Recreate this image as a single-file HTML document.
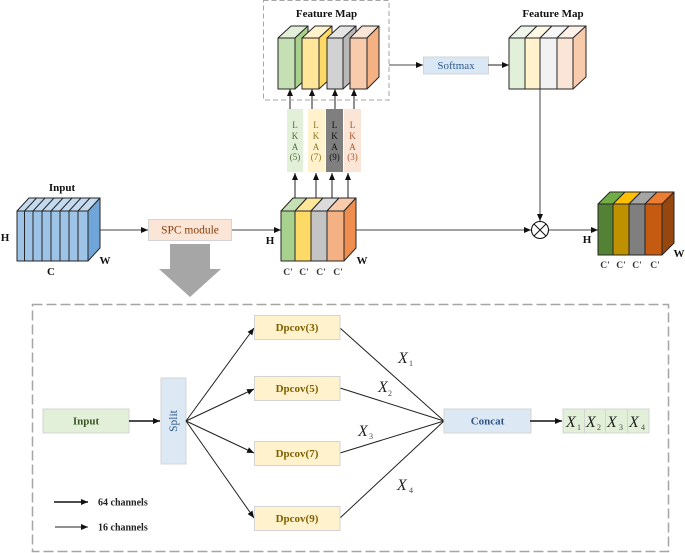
<!DOCTYPE html>
<html><head><meta charset="utf-8"><style>
html,body{margin:0;padding:0;background:#fff;width:685px;height:553px;overflow:hidden}
svg{display:block}
text{font-family:"Liberation Serif",serif}
.b{font-weight:bold;font-size:11px;fill:#111;text-anchor:middle}
.c{font-weight:bold;font-size:9.5px;fill:#333;text-anchor:middle}
.e{stroke:#262626;stroke-width:1;stroke-linejoin:round}
.box{stroke:#d4d4d4;stroke-width:1}
.x{font-style:italic;font-size:16px;fill:#222}
.s{font-size:8px;fill:#444}
.l{font-size:9px;text-anchor:middle}
.d{font-weight:bold;font-size:11px;fill:#7f6000;text-anchor:middle}
.ln{stroke:#222;stroke-width:1;fill:none}
.g{stroke:#444;stroke-width:1;fill:none}
.th{stroke:#111;stroke-width:1.5;fill:none}
</style></head><body>
<svg width="685" height="553" viewBox="0 0 685 553" xmlns="http://www.w3.org/2000/svg">
<defs>
<marker id="a" markerUnits="userSpaceOnUse" markerWidth="8" markerHeight="8" refX="7" refY="3" orient="auto"><path d="M0,0L7,3L0,6z" fill="#111"/></marker>
</defs>

<!-- Input cube -->
<polygon class="e" points="17,211 88,211 100,198 29,198" fill="#c3daf0"/>
<polygon class="e" points="88,211 100,198 100,248 88,261" fill="#6fa5d8"/>
<rect class="e" x="17" y="211" width="71" height="50" fill="#9dc3e6"/>
<path class="e" fill="none" d="M24.5,211V261M33,211V261M42,211V261M51,211V261M60,211V261M69,211V261M78,211V261M24.5,211L36.5,198M33,211L45,198M42,211L54,198M51,211L63,198M60,211L72,198M69,211L81,198M78,211L90,198"/>
<text class="b" x="62" y="191">Input</text>
<text class="b" x="5" y="241">H</text>
<text class="b" x="51" y="275">C</text>
<text class="b" x="105" y="264">W</text>

<line class="g" x1="100" y1="230" x2="148" y2="230" marker-end="url(#a)"/>
<rect class="box" x="148.500" y="219.500" width="83" height="21" fill="#fbe5d6"/>
<text x="190" y="233.500" font-size="11.500" text-anchor="middle" fill="#843c0c">SPC module</text>
<line class="g" x1="232" y1="230" x2="281" y2="230" marker-end="url(#a)"/>
<polygon points="170,244 210,244 210,269 221,269 190,297 159,269 170,269" fill="#a6a6a6"/>

<!-- Middle cube -->
<polygon class="e" points="281,211 295,211 307,198 293,198" fill="#c5e0b4"/>
<polygon class="e" points="295,211 311,211 323,198 307,198" fill="#ffe699"/>
<polygon class="e" points="311,211 327,211 339,198 323,198" fill="#dbdbdb"/>
<polygon class="e" points="327,211 344,211 356,198 339,198" fill="#f8cbad"/>
<polygon class="e" points="344,211 356,198 356,248 344,261" fill="#f08e4f"/>
<rect class="e" x="281" y="211" width="14" height="50" fill="#a9d18e"/>
<rect class="e" x="295" y="211" width="16" height="50" fill="#ffd966"/>
<rect class="e" x="311" y="211" width="16" height="50" fill="#c4c4c4"/>
<rect class="e" x="327" y="211" width="17" height="50" fill="#f4b183"/>
<text class="b" x="270" y="244">H</text>
<text class="b" x="362" y="264">W</text>
<text class="c" x="288" y="275">C'</text>
<text class="c" x="304" y="275">C'</text>
<text class="c" x="321" y="275">C'</text>
<text class="c" x="338" y="275">C'</text>

<!-- LKA -->
<rect x="287" y="109" width="16" height="63" fill="#e2f0d9"/>
<rect x="308" y="109" width="17" height="63" fill="#fff2cc"/>
<rect x="326" y="109" width="17" height="63" fill="#7f7f7f"/>
<rect x="344" y="109" width="17" height="63" fill="#fbe5d6"/>
<g fill="#4e6b38">
<text class="l" x="295" y="128">L</text><text class="l" x="295" y="139">K</text><text class="l" x="295" y="150">A</text><text class="l" x="295" y="160">(5)</text>
</g>
<g fill="#8a7320">
<text class="l" x="316" y="128">L</text><text class="l" x="316" y="139">K</text><text class="l" x="316" y="150">A</text><text class="l" x="316" y="160">(7)</text>
</g>
<g fill="#111">
<text class="l" x="334.500" y="128">L</text><text class="l" x="334.500" y="139">K</text><text class="l" x="334.500" y="150">A</text><text class="l" x="334.500" y="160">(9)</text>
</g>
<g fill="#a5552a">
<text class="l" x="352.500" y="128">L</text><text class="l" x="352.500" y="139">K</text><text class="l" x="352.500" y="150">A</text><text class="l" x="352.500" y="160">(3)</text>
</g>
<g class="ln">
<line x1="295" y1="198" x2="295" y2="173" marker-end="url(#a)"/>
<line x1="316" y1="198" x2="316" y2="173" marker-end="url(#a)"/>
<line x1="332" y1="198" x2="332" y2="173" marker-end="url(#a)"/>
<line x1="348" y1="198" x2="348" y2="173" marker-end="url(#a)"/>
<line x1="290" y1="109" x2="290" y2="89" marker-end="url(#a)"/>
<line x1="312" y1="109" x2="312" y2="89" marker-end="url(#a)"/>
<line x1="335" y1="109" x2="335" y2="89" marker-end="url(#a)"/>
<line x1="354" y1="109" x2="354" y2="89" marker-end="url(#a)"/>
</g>

<!-- Feature map box -->
<rect x="263.500" y="0.500" width="125.500" height="99.500" fill="none" stroke="#a6a6a6" stroke-width="1" stroke-dasharray="5 3"/>
<text class="b" x="326.500" y="17">Feature Map</text>
<polygon class="e" points="278,38 295,38 308,26 291,26" fill="#e2f0d9"/>
<polygon class="e" points="295,38 308,26 308,77 295,89" fill="#a9d18e"/>
<rect class="e" x="278" y="38" width="17" height="51" fill="#c5e0b4"/>
<polygon class="e" points="302,38 319,38 332,26 315,26" fill="#fff2cc"/>
<polygon class="e" points="319,38 332,26 332,77 319,89" fill="#ffd966"/>
<rect class="e" x="302" y="38" width="17" height="51" fill="#ffe699"/>
<polygon class="e" points="327,38 343,38 356,26 340,26" fill="#e5e5e5"/>
<polygon class="e" points="343,38 356,26 356,77 343,89" fill="#b8b8b8"/>
<rect class="e" x="327" y="38" width="16" height="51" fill="#d2d2d2"/>
<polygon class="e" points="350,38 367,38 379,26 362,26" fill="#fbe5d6"/>
<polygon class="e" points="367,38 379,26 379,77 367,89" fill="#f4b183"/>
<rect class="e" x="350" y="38" width="17" height="51" fill="#f8cbad"/>

<line class="g" x1="389" y1="65" x2="423" y2="65" marker-end="url(#a)"/>
<rect class="box" x="423.500" y="57" width="65" height="17" fill="#dae8f5"/>
<text x="456" y="69" font-size="11" text-anchor="middle" fill="#2e5a8a">Softmax</text>
<line class="ln" x1="488" y1="65" x2="509" y2="65" marker-end="url(#a)"/>

<!-- Right feature map -->
<text class="b" x="553" y="17">Feature Map</text>
<polygon class="e" points="509,38 525,38 537,26 521,26" fill="#f0f7ea"/>
<polygon class="e" points="525,38 540,38 552,26 537,26" fill="#fff9e6"/>
<polygon class="e" points="540,38 557,38 569,26 552,26" fill="#f8f8f8"/>
<polygon class="e" points="557,38 573,38 586,26 569,26" fill="#fdf1e9"/>
<polygon class="e" points="573,38 586,26 586,77 573,89" fill="#f8cbad"/>
<rect class="e" x="509" y="38" width="16" height="51" fill="#e2f0d9"/>
<rect class="e" x="525" y="38" width="15" height="51" fill="#fff2cc"/>
<rect class="e" x="540" y="38" width="17" height="51" fill="#f2f2f2"/>
<rect class="e" x="557" y="38" width="16" height="51" fill="#fbe5d6"/>

<!-- Long connectors -->
<line class="g" x1="356" y1="230" x2="531" y2="230" marker-end="url(#a)"/>
<line class="g" x1="540" y1="89" x2="540" y2="221" marker-end="url(#a)"/>
<circle cx="540" cy="230" r="8.500" fill="#fff" stroke="#111" stroke-width="1.100"/>
<path d="M534,224L546,236M546,224L534,236" stroke="#111" stroke-width="1"/>
<line class="g" x1="549" y1="230" x2="598" y2="230" marker-end="url(#a)"/>

<!-- Output cube -->
<polygon class="e" points="598,204 613,204 625,192 610,192" fill="#70ad47"/>
<polygon class="e" points="613,204 629,204 641,192 625,192" fill="#ffc000"/>
<polygon class="e" points="629,204 645,204 657,192 641,192" fill="#a5a5a5"/>
<polygon class="e" points="645,204 662,204 674,192 657,192" fill="#ed7d31"/>
<polygon class="e" points="662,204 674,192 674,243 662,255" fill="#96460f"/>
<rect class="e" x="598" y="204" width="15" height="51" fill="#548235"/>
<rect class="e" x="613" y="204" width="16" height="51" fill="#bf9000"/>
<rect class="e" x="629" y="204" width="16" height="51" fill="#7f7f7f"/>
<rect class="e" x="645" y="204" width="17" height="51" fill="#c55a11"/>
<text class="b" x="587" y="243">H</text>
<text class="b" x="679" y="257">W</text>
<text class="c" x="605" y="268">C'</text>
<text class="c" x="621" y="268">C'</text>
<text class="c" x="637" y="268">C'</text>
<text class="c" x="655" y="268">C'</text>

<!-- Lower dashed panel -->
<rect x="32.500" y="304.500" width="636" height="247" fill="none" stroke="#a6a6a6" stroke-width="1.500" stroke-dasharray="10 4"/>

<rect class="box" x="43" y="409" width="86" height="24" fill="#e2f0d9"/>
<text x="86" y="424.500" font-size="11" font-weight="bold" text-anchor="middle" fill="#385723">Input</text>
<line class="th" x1="129" y1="421" x2="160" y2="421" marker-end="url(#a)"/>
<rect class="box" x="161" y="378" width="25" height="86" fill="#dce8f4"/>
<text transform="translate(177,421) rotate(-90)" font-size="11.500" text-anchor="middle" fill="#2e5a8a">Split</text>

<g class="ln">
<line x1="186" y1="421" x2="254" y2="328" marker-end="url(#a)"/>
<line x1="186" y1="421" x2="254" y2="389" marker-end="url(#a)"/>
<line x1="186" y1="421" x2="254" y2="453" marker-end="url(#a)"/>
<line x1="186" y1="421" x2="254" y2="518" marker-end="url(#a)"/>
<line x1="340" y1="328" x2="444" y2="421"/>
<line x1="340" y1="388" x2="444" y2="421"/>
<line x1="340" y1="453" x2="444" y2="421"/>
<line x1="340" y1="518" x2="444" y2="421"/>
</g>

<rect class="box" x="254.500" y="315.500" width="85.500" height="24" fill="#fff2cc"/>
<rect class="box" x="254.500" y="376.500" width="85.500" height="24" fill="#fff2cc"/>
<rect class="box" x="254.500" y="441.500" width="85.500" height="24" fill="#fff2cc"/>
<rect class="box" x="254.500" y="506.500" width="85.500" height="24" fill="#fff2cc"/>
<text class="d" x="297" y="331">Dpcov(3)</text>
<text class="d" x="297" y="392">Dpcov(5)</text>
<text class="d" x="297" y="457">Dpcov(7)</text>
<text class="d" x="297" y="522">Dpcov(9)</text>

<text class="x" x="398" y="363">X</text><text class="s" x="409" y="366">1</text>
<text class="x" x="378" y="392">X</text><text class="s" x="388" y="396">2</text>
<text class="x" x="358" y="436">X</text><text class="s" x="369" y="439">3</text>
<text class="x" x="397" y="490">X</text><text class="s" x="409" y="493">4</text>

<rect class="box" x="444" y="409" width="87" height="24" fill="#dce8f4"/>
<text x="487.500" y="424.500" font-size="11" font-weight="bold" text-anchor="middle" fill="#2f5587">Concat</text>
<line class="th" x1="530" y1="421" x2="562" y2="421" marker-end="url(#a)"/>
<rect class="box" x="563" y="409" width="86" height="24" fill="#e2f0d9"/>
<path class="box" fill="none" d="M584.500,409V433M605.500,409V433M627.500,409V433"/>
<text class="x" x="566" y="427">X</text><text class="s" x="577" y="430">1</text>
<text class="x" x="586" y="427">X</text><text class="s" x="597" y="430">2</text>
<text class="x" x="607" y="427">X</text><text class="s" x="619" y="430">3</text>
<text class="x" x="629" y="427">X</text><text class="s" x="641" y="430">4</text>

<line class="th" x1="54" y1="502" x2="88" y2="502" marker-end="url(#a)"/>
<line class="ln" x1="55" y1="527" x2="88" y2="527" marker-end="url(#a)"/>
<text x="98" y="505.500" font-size="10" font-weight="bold" fill="#222">64 channels</text>
<text x="98" y="530.500" font-size="10" font-weight="bold" fill="#222">16 channels</text>
</svg>
</body></html>
